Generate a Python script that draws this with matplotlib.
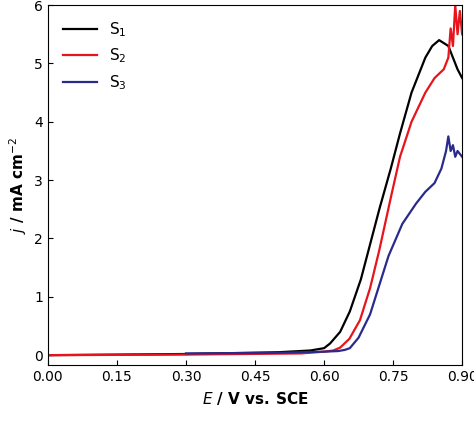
import matplotlib
matplotlib.use("Agg")
import matplotlib.pyplot as plt

x1 = [0.0, 0.3, 0.5, 0.57, 0.6, 0.613, 0.635, 0.656, 0.68, 0.70, 0.72, 0.745, 0.765, 0.79, 0.82, 0.835, 0.85, 0.86, 0.87, 0.88, 0.89, 0.9]
y1 = [0.0, 0.02, 0.05, 0.08, 0.12, 0.2, 0.4, 0.75, 1.3, 1.9, 2.5, 3.2, 3.8, 4.5, 5.1, 5.3, 5.4, 5.35, 5.3, 5.1, 4.9, 4.75]
x2 = [0.0, 0.3, 0.55, 0.6, 0.62, 0.635, 0.655, 0.678, 0.70, 0.72, 0.745, 0.765, 0.79, 0.82, 0.84, 0.86, 0.87, 0.875, 0.88, 0.885, 0.89, 0.895, 0.9]
y2 = [0.0, 0.01, 0.03, 0.06, 0.08, 0.13, 0.28, 0.6, 1.15, 1.8, 2.7, 3.4, 4.0, 4.5, 4.75, 4.9, 5.1, 5.6, 5.3, 6.0, 5.5, 5.9, 5.5]
x3 = [0.3, 0.5, 0.6, 0.63, 0.645, 0.656, 0.675, 0.70, 0.72, 0.74, 0.77, 0.8, 0.82, 0.84, 0.855, 0.865, 0.87, 0.875, 0.88, 0.885, 0.89, 0.9]
y3 = [0.03, 0.04, 0.06, 0.07, 0.09, 0.12, 0.3, 0.7, 1.2, 1.7, 2.25, 2.6, 2.8, 2.95, 3.2, 3.5, 3.75, 3.5, 3.6, 3.4, 3.5, 3.4]

fig = plt.figure(figsize=(4.74, 4.28), dpi=100)
ax = fig.add_axes([0.101, 0.147, 0.874, 0.841])
ax.plot(x1, y1, color="black", lw=1.6, label="S$_1$")
ax.plot(x2, y2, color="#e8141c", lw=1.6, label="S$_2$")
ax.plot(x3, y3, color="#2a2a8c", lw=1.6, label="S$_3$")
ax.set_xlim(0, 0.9)
ax.set_ylim(-0.17, 6)
ax.set_xticks([0, 0.15, 0.3, 0.45, 0.6, 0.75, 0.9])
ax.set_xticklabels(["0.00", "0.15", "0.30", "0.45", "0.60", "0.75", "0.90"])
ax.set_yticks(range(7))
ax.tick_params(direction="in", labelsize=10)
ax.set_xlabel("$\\it{E}$ / V vs. SCE", fontsize=11, fontweight="bold")
ax.set_ylabel("$\\it{j}$ / mA cm$^{-2}$", fontsize=11, fontweight="bold")
ax.legend(loc="upper left", frameon=False, fontsize=11, handlelength=2.2, borderaxespad=0.6)
fig.savefig("out.png", dpi=100)
